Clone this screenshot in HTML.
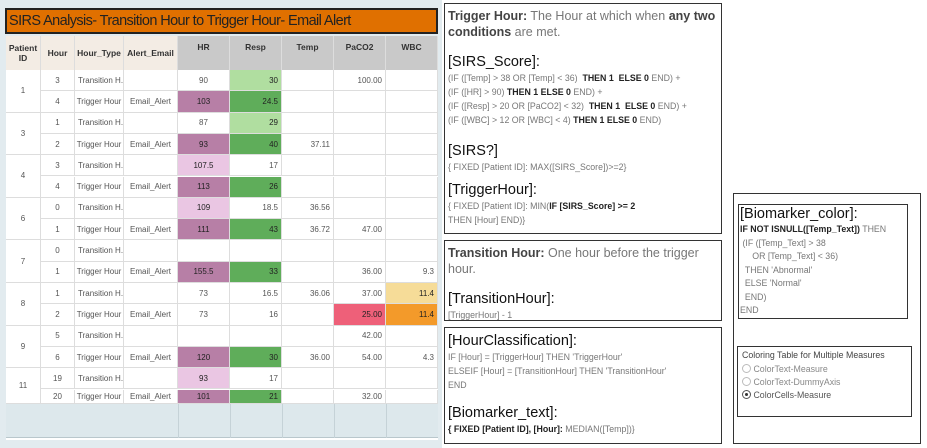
<!DOCTYPE html>
<html><head><meta charset="utf-8">
<style>
*{box-sizing:border-box;margin:0;padding:0}
body{width:927px;height:448px;background:#fff;font-family:"Liberation Sans",sans-serif;position:relative;overflow:hidden}
.abs{position:absolute}
#tblwrap{left:0;top:0;width:442px;height:448px;background:#e2ebef}
.cell{position:absolute;font-size:8px;color:#555;display:flex;align-items:center;border-right:1px solid #ddd;border-bottom:1px solid #ddd;padding:0 3px;white-space:nowrap;overflow:hidden}
.hdr{position:absolute;font-size:8.5px;font-weight:bold;color:#333;display:flex;justify-content:center;text-align:center;border-right:1px solid #ddd;line-height:10px}
.box{position:absolute;border:1.3px solid #333;background:#fff;padding:4px 3px;color:#666}
.bt{font-size:14.5px;color:#111;margin-top:10px;line-height:17px}
.code{font-size:8.8px;line-height:14px;color:#777;white-space:nowrap}
.code b{color:#222;font-weight:bold}
.lead{font-size:12.5px;line-height:16px;color:#777}
.lead b{color:#444}
</style></head><body>
<div id="tblwrap" class="abs">
  <div class="abs" style="left:5px;top:8px;width:433px;height:26px;background:#e07000;border:2px solid #222;color:#222;font-size:14.5px;padding:3px 2px;letter-spacing:-0.6px;white-space:nowrap">SIRS Analysis- Transition Hour to Trigger Hour- Email Alert</div>
  <div id="tbl" class="abs" style="left:6px;top:36px;width:432px;height:404px;background:#fff"></div>
</div>

<div class="box" style="left:444px;top:3px;width:278px;height:231px">
  <div class="lead"><b>Trigger Hour:</b> The Hour at which when <b>any two conditions</b> are met.</div>
  <div class="bt" style="margin-top:14px">[SIRS_Score]:</div>
  <div class="code">(IF ([Temp] &gt; 38 OR [Temp] &lt; 36) &nbsp;<b>THEN 1 &nbsp;ELSE 0</b> END) +<br>(IF ([HR] &gt; 90) <b>THEN 1 ELSE 0</b> END) +<br>(IF ([Resp] &gt; 20 OR [PaCO2] &lt; 32) &nbsp;<b>THEN 1 &nbsp;ELSE 0</b> END) +<br>(IF ([WBC] &gt; 12 OR [WBC] &lt; 4) <b>THEN 1 ELSE 0</b> END)</div>
  <div class="bt" style="margin-top:16px">[SIRS?]</div>
  <div class="code">{ FIXED [Patient ID]: MAX([SIRS_Score])&gt;=2}</div>
  <div class="bt" style="margin-top:8px">[TriggerHour]:</div>
  <div class="code">{ FIXED [Patient ID]: MIN(<b>IF [SIRS_Score] &gt;= 2</b><br>THEN [Hour] END)}</div>
</div>

<div class="box" style="left:444px;top:240px;width:278px;height:81px">
  <div class="lead"><b>Transition Hour:</b> One hour before the trigger hour.</div>
  <div class="bt" style="margin-top:14px">[TransitionHour]:</div>
  <div class="code">[TriggerHour] - 1</div>
</div>

<div class="box" style="left:444px;top:327px;width:278px;height:117px;padding-top:5px">
  <div class="bt" style="margin-top:0">[HourClassification]:</div>
  <div class="code">IF [Hour] = [TriggerHour] THEN 'TriggerHour'<br>ELSEIF [Hour] = [TransitionHour] THEN 'TransitionHour'<br>END</div>
  <div class="bt" style="margin-top:13px">[Biomarker_text]:</div>
  <div class="code"><b>{ FIXED [Patient ID], [Hour]:</b> MEDIAN([Temp])}</div>
</div>

<div class="box" style="left:733px;top:193px;width:188px;height:251px;padding:0"></div>
<div class="box" style="left:738px;top:204px;width:170px;height:115px;padding:1px 1px">
  <div class="bt" style="margin-top:0">[Biomarker_color]:</div>
  <div class="code" style="line-height:13.5px"><b>IF NOT ISNULL([Temp_Text])</b> THEN<br>&nbsp;(IF ([Temp_Text] &gt; 38<br>&nbsp;&nbsp;&nbsp;&nbsp;&nbsp;OR [Temp_Text] &lt; 36)<br>&nbsp;&nbsp;THEN 'Abnormal'<br>&nbsp;&nbsp;ELSE 'Normal'<br>&nbsp;&nbsp;END)<br>END</div>
</div>
<div class="box" style="left:737px;top:346px;width:175px;height:71px;padding:3px 4px;font-size:8.8px;color:#444">
  <div style="margin-bottom:4px">Coloring Table for Multiple Measures</div>
  <div style="color:#888;margin-bottom:3px"><span style="display:inline-block;width:9px;height:9px;border:1px solid #bbb;border-radius:50%;vertical-align:-1px"></span> ColorText-Measure</div>
  <div style="color:#888;margin-bottom:3px"><span style="display:inline-block;width:9px;height:9px;border:1px solid #bbb;border-radius:50%;vertical-align:-1px"></span> ColorText-DummyAxis</div>
  <div style="color:#555"><span style="display:inline-block;width:9px;height:9px;border:1px solid #555;border-radius:50%;vertical-align:-1px;position:relative"><span style="position:absolute;left:2px;top:2px;width:3px;height:3px;background:#333;border-radius:50%"></span></span> ColorCells-Measure</div>
</div>

<script>
const patients=["1","3","4","6","7","8","9","11"];
const hours=[3,4,1,2,3,4,0,1,0,1,1,2,5,6,19,20];
const hrVals=["90","103","87","93","107.5","113","109","111","","155.5","73","73","","120","93","101"];
const hrColor=["w","d","w","d","l","d","l","d","w","d","w","w","w","d","l","d"];
const respVals=["30","24.5","29","40","17","26","18.5","43","","33","16.5","16","","30","17","21"];
const respColor=["l","d","l","d","w","d","w","d","w","d","w","w","w","d","w","d"];
const tempVals=["","","","37.11","","","36.56","36.72","","","36.06","","","36.00","",""];
const pacoVals=["100.00","","","","","","","47.00","","36.00","37.00","25.00","42.00","54.00","","32.00"];
const pacoColor=["w","w","w","w","w","w","w","w","w","w","w","r","w","w","w","w"];
const wbcVals=["","","","","","","","","","9.3","11.4","11.4","","4.3","",""];
const wbcColor=["w","w","w","w","w","w","w","w","w","w","lo","o","w","w","w","w"];

const T=document.getElementById('tbl');
const colX=[0,35,69,118,172,224,276,328,380,432];
const heads=["Patient<br>ID","Hour","Hour_Type","Alert_Email","HR","Resp","Temp","PaCO2","WBC"];
const HT=34,RH=21.3,BOT=368;
const pal={w:"#fff",d:"#b77fa6",l:"#eac6e3"};
heads.forEach((h,i)=>{
  const d=document.createElement('div');
  d.className='hdr';
  
  
  d.style.left=colX[i]+'px';d.style.top='0px';d.style.width=(colX[i+1]-colX[i])+'px';d.style.height=HT+'px';
  d.style.background=i<4?'#f3ece4':'#c9c9c9';
  d.style.alignItems=i<4?'center':'flex-start';
  d.style.paddingTop=i<4?'0':'6px';
  d.innerHTML=h;T.appendChild(d);
});
function cell(col,r,txt,bg,align){
  const top=HT+r*RH; if(top>=BOT) return;
  const d=document.createElement('div');
  d.className='cell';
  
  
  d.style.left=colX[col]+'px';d.style.top=top+'px';
  d.style.width=(colX[col+1]-colX[col])+'px';
  d.style.height=Math.min(RH,BOT-top)+'px';
  d.style.background=bg||'#fff';
  d.style.justifyContent=align;
  d.style.color=(bg&&bg!=='#fff')?'#222':'#555';
  d.textContent=txt;T.appendChild(d);
}
const respPal={w:"#fff",l:"#b0dea0",d:"#5fad5a"};
const otherPal={w:"#fff",r:"#ee6079",lo:"#f6dc98",o:"#f39a2a"};
hours.forEach((h,r)=>{
  cell(1,r,h,null,'center');
  const trig=r%2===1;
  cell(2,r,trig?'Trigger Hour':'Transition H..',null,trig?'center':'flex-start');
  cell(3,r,trig?'Email_Alert':'',null,'center');
  cell(4,r,hrVals[r],pal[hrColor[r]],'center');
  cell(5,r,respVals[r],respPal[respColor[r]],'flex-end');
  cell(6,r,tempVals[r],null,'flex-end');
  cell(7,r,pacoVals[r],otherPal[pacoColor[r]],'flex-end');
  cell(8,r,wbcVals[r],otherPal[wbcColor[r]],'flex-end');
});
patients.forEach((p,i)=>{
  const top=HT+i*2*RH;
  const d=document.createElement('div');
  d.className='cell';
  
  
  d.style.left='0px';d.style.top=top+'px';d.style.width='35px';
  d.style.height=Math.min(2*RH,BOT-top)+'px';d.style.justifyContent='center';
  d.textContent=p;T.appendChild(d);
});
const f=document.createElement('div');


f.style.cssText='position:absolute;left:0;top:'+BOT+'px;width:432px;height:34px;background:#dde8ec;border-bottom:1px solid #b9c7cc';
T.appendChild(f);
[172,224,276,328,380].forEach(x=>{
  const l=document.createElement('div');
  
  
  l.style.cssText='position:absolute;left:'+x+'px;top:'+BOT+'px;width:1px;height:34px;background:#c5d2d7';
  T.appendChild(l);
});
</script>
</body></html>
